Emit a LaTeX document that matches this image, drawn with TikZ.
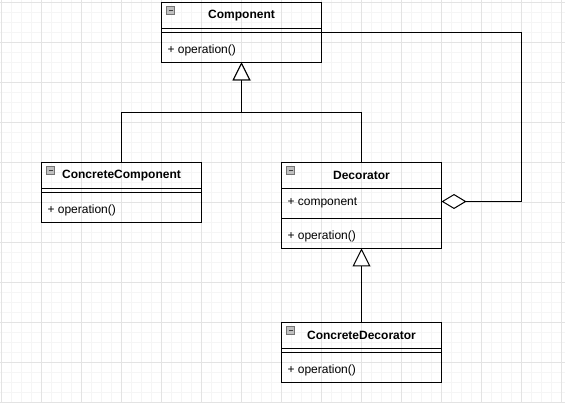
\documentclass[tikz,border=0pt]{standalone}
\usepackage{fontspec}
\setmainfont{Liberation Sans}
\usetikzlibrary{arrows.meta,calc}
\begin{document}
\begin{tikzpicture}[x=1pt,y=-1pt, line width=1pt,
  font=\fontsize{12}{14}\selectfont,
  minorgrid/.style={draw=black!4, line width=0.8pt},
  majorgrid/.style={draw=black!11, line width=0.9pt},
  part/.style={draw=black, rectangle, minimum width=160pt, inner sep=0pt, outer sep=0pt, anchor=north west},
  hdr/.style={part, minimum height=26pt, font=\fontsize{12}{14}\selectfont\bfseries},
  gap/.style={part, minimum height=4pt},
  compart/.style={part, minimum height=30pt},
  field/.style={anchor=west, inner sep=0pt},
  inherit/.style={-{Triangle[length=18pt,width=18pt,fill=white]}},
  aggr/.style={-{Diamond[length=25pt,width=15pt,fill=white]}},
  icon/.style={draw=black!55, fill=black!25, line width=0.8pt},
  iconbar/.style={draw=black!75, line width=1pt}
]
\useasboundingbox (0,0) rectangle (565,403);
\fill[white] (0,0) rectangle (565,403);
% grid
\foreach \i in {0,...,56} \draw[minorgrid] (1.5+10*\i,0) -- (1.5+10*\i,403);
\foreach \i in {0,...,40} \draw[minorgrid] (0,2.5+10*\i) -- (565,2.5+10*\i);
\foreach \i in {0,...,14} \draw[majorgrid] (1.5+40*\i,0) -- (1.5+40*\i,403);
\foreach \i in {0,...,10} \draw[majorgrid] (0,2.5+40*\i) -- (565,2.5+40*\i);

% Component
\node[hdr] (compH) at (161.5,2.5) {Component};
\node[gap] (compG) at (compH.south west) {};
\node[compart] (compO) at (compG.south west) {};
\node[field] (compOt) at ($(compO.south west)+(5.5,-12)$) {+ operation()};

% ConcreteComponent
\node[hdr] (ccH) at (41.5,162.5) {ConcreteComponent};
\node[gap] (ccG) at (ccH.south west) {};
\node[compart] (ccO) at (ccG.south west) {};
\node[field] (ccOt) at ($(ccO.south west)+(5.5,-12)$) {+ operation()};

% Decorator
\node[hdr] (decH) at (281.5,162.5) {Decorator};
\node[compart] (decA) at (decH.south west) {};
\node[compart] (decO) at (decA.south west) {};
\node[field] (decAt) at ($(decA.north west)+(5.5,14)$) {+ component};
\node[field] (decOt) at ($(decO.south west)+(5.5,-12)$) {+ operation()};

% ConcreteDecorator
\node[hdr] (cdH) at (281.5,322.5) {ConcreteDecorator};
\node[gap] (cdG) at (cdH.south west) {};
\node[compart] (cdO) at (cdG.south west) {};
\node[field] (cdOt) at ($(cdO.south west)+(5.5,-12)$) {+ operation()};

% collapse icons
\foreach \n in {compH,ccH,decH,cdH} {
  \draw[icon] ($(\n.north west)+(5,4)$) rectangle +(8,8);
  \draw[iconbar] ($(\n.north west)+(7,8)$) -- +(4,0);
}

% connectors
\coordinate (j1) at (241.5,112.5);
\draw[inherit] (ccH.north) |- (j1) -- (compO.south);
\draw[inherit] (decH.north) |- (j1) -- (compO.south);
\draw[inherit] (cdH.north) -- (decO.south);
\draw[aggr] (compO.north east) -- ++(200,0) |- ([yshift=2pt]decA.east);
\end{tikzpicture}
\end{document}
